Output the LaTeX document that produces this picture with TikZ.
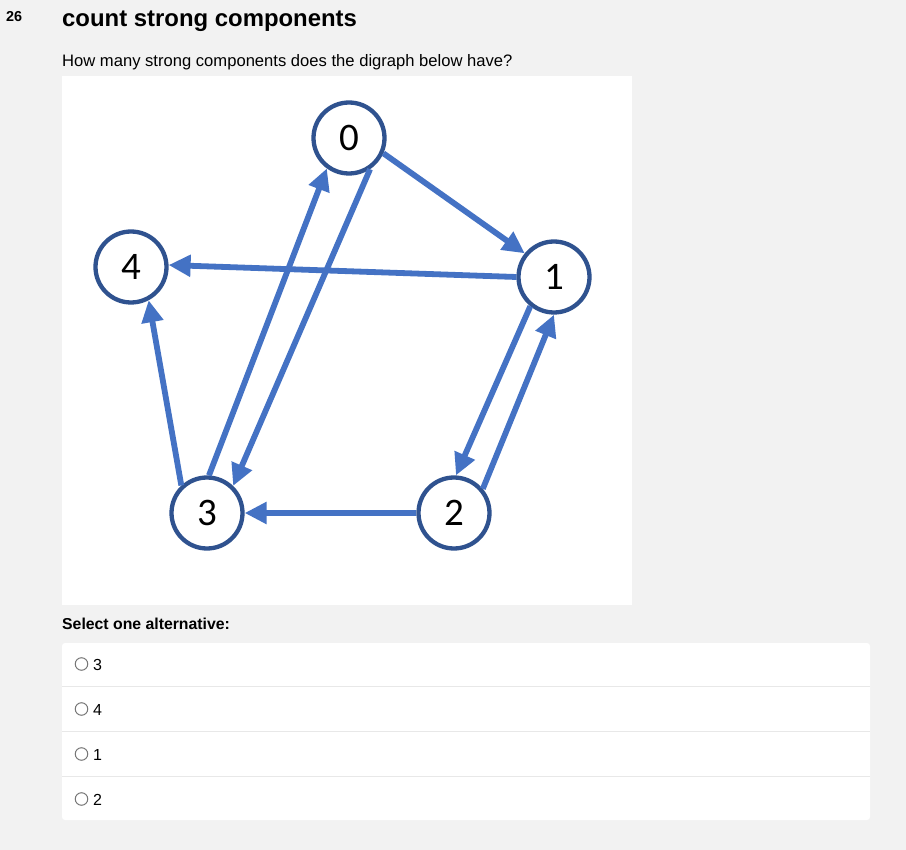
\documentclass[tikz,border=0pt]{standalone}
\usepackage{fontspec}
\setmainfont{Liberation Sans}
\newfontfamily\vertexfont{Carlito}
\usetikzlibrary{arrows.meta,positioning}
\definecolor{pagebg}{HTML}{F2F2F2}
\definecolor{ringblue}{HTML}{2F528F}
\definecolor{edgeblue}{HTML}{4472C4}
\definecolor{radiogray}{HTML}{767676}
\definecolor{rulegray}{HTML}{E8E8E8}
\tikzset{
vertex/.style={
  circle, draw=ringblue, line width=4.3pt, fill=white,
  minimum size=71pt, inner sep=0pt,
  font=\vertexfont\fontsize{39}{39}\selectfont
},
edge/.style={draw=edgeblue, line width=5.8pt, -{Triangle[length=22pt,width=21pt]}},
radio/.style={circle, draw=radiogray, line width=1pt, minimum size=12.5pt, inner sep=0pt},
plain/.style={anchor=base west, inner sep=0pt},
}

\begin{document}
\begin{tikzpicture}[x=1pt,y=-1pt]
    \fill[pagebg] (0,0) rectangle (906,850);
    \useasboundingbox (0,0) rectangle (906,850);
    % header
    \node[plain, font=\bfseries\fontsize{14.4}{14.4}\selectfont] (num) at (6,22) {26};
    \node[plain, font=\bfseries\fontsize{23.9}{23.9}\selectfont] (title) at (62,27) {count strong components};
    \node[plain, font=\fontsize{16.6}{16.6}\selectfont] (question) at (62,67) {How many strong components does the digraph below have?};
    % digraph
    \fill[white] (62,76) rectangle (632,605);
    \node[vertex] (v0) at (349,138) {0};
    \node[vertex] (v1) at (554,277) {1};
    \node[vertex] (v2) at (454,513) {2};
    \node[vertex] (v3) at (207,513) {3};
    \node[vertex] (v4) at (131,267) {4};
    \draw[edge] (v0.336) -- (v1.141);
    \draw[edge] (v1.180) -- (v4.3);
    \draw[edge] (v1.231) -- (v2.87);
    \draw[edge] (v2.40) -- (v1.270);
    \draw[edge] (v2.west) -- (v3.east);
    \draw[edge] (v0.304) -- (v3.46);
    \draw[edge] (v3.87) -- (v0.234);
    \draw[edge] (v3.133) -- (v4.298);
    % alternatives
    \node[plain, font=\bfseries\fontsize{15.8}{15.8}\selectfont] (select) at (62,629) {Select one alternative:};
    \fill[white, rounded corners=3pt] (62,643) rectangle (870,820);
    \foreach \y in {686,731,776}
        \draw[rulegray, line width=1pt] (62,\y) -- (870,\y);
    \foreach \k/\val in {0/3,1/4,2/1,3/2} {
        \node[radio] (r\k) at (81.5,{664+45*\k}) {};
        \node[plain, font=\fontsize{16}{16}\selectfont] (c\k) at (93,{670+45*\k}) {\val};
    }
\end{tikzpicture}
\end{document}
